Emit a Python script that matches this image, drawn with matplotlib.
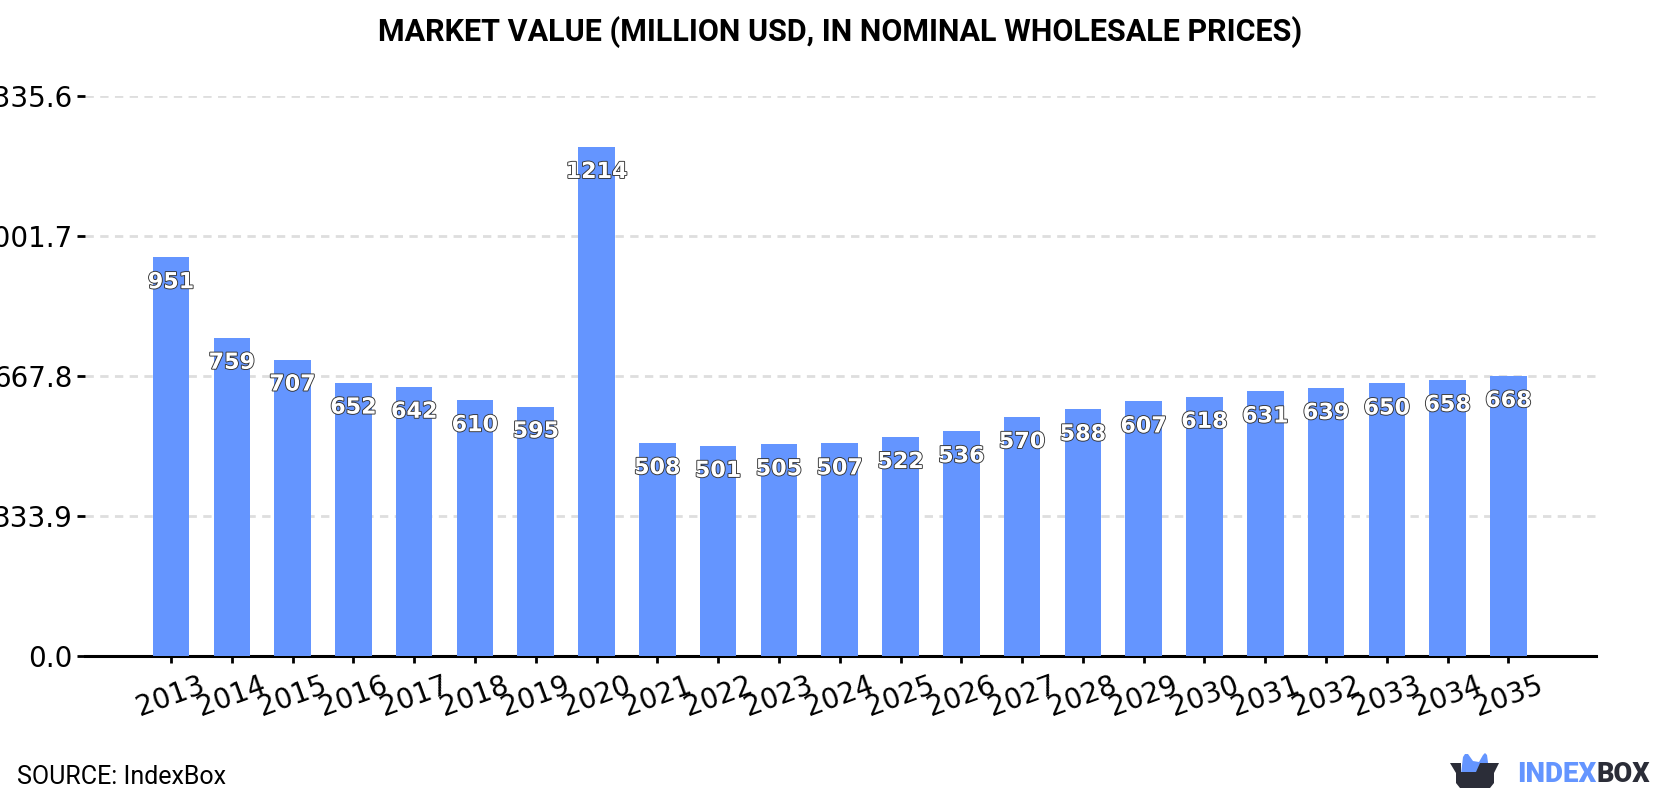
import matplotlib
matplotlib.use('Agg')
import matplotlib.pyplot as plt
import matplotlib.patheffects as pe
from matplotlib.patches import Polygon

years = [2013, 2014, 2015, 2016, 2017, 2018, 2019, 2020, 2021, 2022, 2023, 2024,
         2025, 2026, 2027, 2028, 2029, 2030, 2031, 2032, 2033, 2034, 2035]
values = [951, 759, 707, 652, 642, 610, 595, 1214, 508, 501, 505, 507,
          522, 536, 570, 588, 607, 618, 631, 639, 650, 658, 668]
y_ticks = [0.0, 333.9, 667.8, 1001.7, 1335.6]

title = 'MARKET VALUE (MILLION USD, IN NOMINAL WHOLESALE PRICES)'
source = 'SOURCE: IndexBox'

BLUE = '#6495ff'
DARK = '#2b2d38'
W, H = 1680, 800

fig = plt.figure(figsize=(16.8, 8), dpi=100)
ax = fig.add_axes([85 / W, 1 - 656 / H, (1596 - 85) / W, (656 - 96) / H])

ax.bar(range(len(years)), values, width=0.6, color=BLUE, zorder=3)
ax.set_xlim(-1.414, 23.44)
ax.set_ylim(0, 1335.6)

ax.set_yticks(y_ticks)
ax.set_yticklabels([f'{v:.1f}' for v in y_ticks])
ax.set_xticks(range(len(years)))
ax.set_xticklabels(years, rotation=20, ha='center')
ax.tick_params(axis='y', labelsize=20, length=6, width=2, pad=3)
ax.tick_params(axis='x', labelsize=20, length=5, width=2, pad=6)
ax.grid(axis='y', color='#dedede', linestyle=(0, (3.0, 2.3)), linewidth=2, zorder=1)
ax.set_axisbelow(True)

for side in ['top', 'right', 'left']:
    ax.spines[side].set_visible(False)
ax.spines['bottom'].set_linewidth(2.2)

# value labels sit just inside the top of each bar
for i, v in enumerate(values):
    ax.annotate(str(v), (i, v), xytext=(0, -18), textcoords='offset points',
                ha='center', va='center', fontsize=16, fontweight='bold',
                color='white', zorder=4,
                path_effects=[pe.withStroke(linewidth=1.3, foreground='#333333')])

fig.text(0.5, 1 - 32 / H, title, ha='center', va='center', family='Roboto',
         fontweight='bold', fontsize=22, color='black')
fig.text(17 / W, 1 - 777 / H, source, ha='left', va='center', family='Roboto',
         fontsize=18, color='black')

# IndexBox logo, laid out in pixel coordinates
overlay = fig.add_axes([0, 0, 1, 1], facecolor='none')
overlay.set_xlim(0, W)
overlay.set_ylim(H, 0)
overlay.axis('off')
overlay.add_patch(Polygon([(1461, 774), (1463, 757), (1465, 754), (1468, 754), (1473, 761),
                          (1479, 762), (1483, 755), (1485, 753), (1487, 755), (1489, 770),
                          (1475, 774)], closed=True, color=BLUE, lw=0))
overlay.add_patch(Polygon([(1450, 763), (1461, 763), (1461, 772), (1476, 772), (1480, 763),
                          (1499, 763), (1494, 773), (1494, 783), (1490, 788), (1460, 788),
                          (1456, 783), (1456, 773)], closed=True, color=DARK, lw=0))
overlay.text(1517, 775, 'INDEX', ha='left', va='center', family='Roboto', fontweight='black',
             fontsize=20, color=BLUE)
overlay.text(1597, 775, 'BOX', ha='left', va='center', family='Roboto', fontweight='black',
             fontsize=19.5, color=DARK)

fig.savefig('out.png', dpi=100)
